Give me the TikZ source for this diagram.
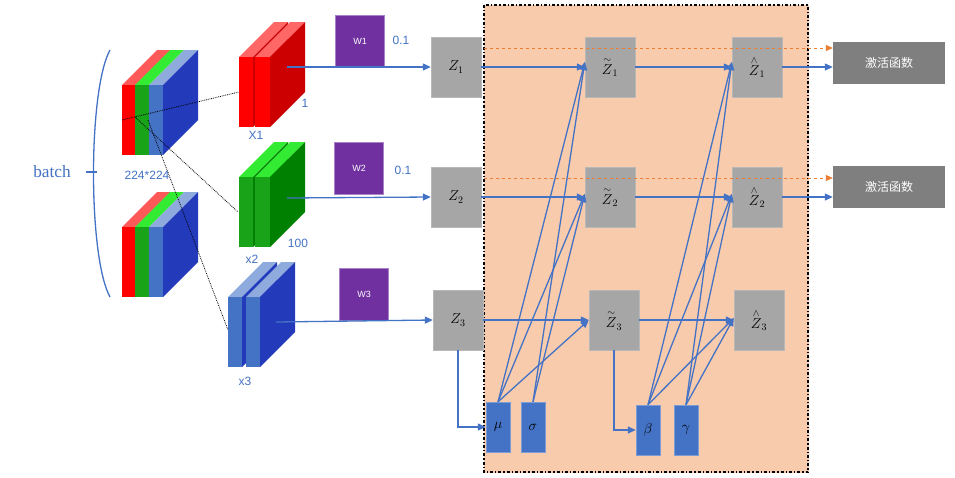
\documentclass[tikz,border=0pt]{standalone}
\usepackage{amsmath}
\usepackage{fontspec}
\setmainfont{Liberation Serif}
\newfontfamily\sans{Liberation Sans}
\newfontfamily\cjk{Noto Sans CJK SC}
\usetikzlibrary{arrows.meta}
\definecolor{lb}{HTML}{4472C4}
\definecolor{gr}{HTML}{A6A6A6}
\definecolor{pu}{HTML}{7030A0}
\definecolor{og}{HTML}{F8CBAD}
\definecolor{ogl}{HTML}{ED7D31}
\definecolor{dg}{HTML}{7F7F7F}
% slab: x y(front top-left) w h d front top side
\newcommand\myslab[8]{%
 \fill[#7] (#1,#2) -- ++(#5,-#5) -- ++(#3,0) -- ++(-#5,#5) -- cycle;
 \fill[#8] (#1+#3,#2) -- ++(#5,-#5) -- ++(0,#4) -- ++(-#5,#5) -- cycle;
 \fill[#6] (#1,#2) rectangle ++(#3,#4);}
\begin{document}
\begin{tikzpicture}[x=1pt,y=-1pt,
 ln/.style={lb,line width=1.3pt},
 ar/.style={ln,-{Triangle[length=8pt,width=7pt]}},
 zb/.style={fill=gr,draw=gr!80,minimum width=50pt,minimum height=60pt,inner sep=0pt,font=\Large},
 pb/.style={fill=lb,draw=lb!70,minimum width=24pt,minimum height=50pt,inner sep=0pt,font=\Large},
 wb/.style={fill=pu,draw=pu!60,minimum width=49pt,minimum height=52pt,text=white,font=\sans\small},
 act/.style={fill=dg,minimum width=112pt,minimum height=42pt,text=white,font=\cjk\large},
 lab/.style={text=lb,font=\sans\large,inner sep=0pt}]
\useasboundingbox (0,0) rectangle (955,477);
\fill[white] (0,0) rectangle (955,477);
\draw[og,fill=og] (484,5) rectangle (808,472);
\draw[line width=1.3pt,dash dot] (484,5) rectangle (808,472);
% input stacks
\foreach \yy in {85,227}{
 \fill[red!65] (122,\yy) -- ++(35,-35) -- ++(14,0) -- ++(-35,35) -- cycle;
 \fill[green!90!black!80] (135,\yy) -- ++(35,-35) -- ++(14,0) -- ++(-35,35) -- cycle;
 \fill[lb!60] (149,\yy) -- ++(35,-35) -- ++(14,0) -- ++(-35,35) -- cycle;
 \fill[blue!40!lb!85!black] (163,\yy) -- ++(35,-35) -- ++(0,70) -- ++(-35,35) -- cycle;
 \fill[red] (122,\yy) rectangle ++(13,70);
 \fill[green!60!black!90] (135,\yy) rectangle ++(14,70);
 \fill[lb] (149,\yy) rectangle ++(14,70);}
% filters
\myslab{239}{57}{14}{70}{35}{red}{red!60}{red!80!black}
\myslab{255}{57}{15}{70}{35}{red}{red!60}{red!80!black}
\myslab{239}{177}{14}{70}{35}{green!60!black!90}{green!90!black!80}{green!50!black}
\myslab{255}{177}{15}{70}{35}{green!60!black!90}{green!90!black!80}{green!50!black}
\myslab{228}{297}{14}{70}{35}{lb}{lb!60}{blue!40!lb!85!black}
\myslab{246}{297}{14}{70}{35}{lb}{lb!60}{blue!40!lb!85!black}
% dotted lines
\coordinate (s1) at (122,120); \coordinate (s2) at (135,117); \coordinate (s3) at (148,120);
\coordinate (f1) at (239,92); \coordinate (f2) at (238,212); \coordinate (f3) at (228,330);
\draw[densely dotted,thick] (s1) -- (f1); \draw[densely dotted,thick] (s2) -- (f2); \draw[densely dotted,thick] (s3) -- (f3);
% bracket
\draw[ln] (110,50) .. controls (88,90) and (88,257) .. (110,297);
\draw[ln] (86,172) -- (97,172);
\node[text=lb,font=\LARGE] (batch) at (52,172) {batch};
\node[lab] (sz) at (147,175) {224*224};
\node[lab] at (256,135) {X1};
\node[lab] at (305,103) {1};
\node[lab] at (252,259) {x2};
\node[lab] at (298,243) {100};
\node[lab] at (245,381) {x3};
% W boxes
\node[wb] (w1) at (360,41) {W1};
\node[wb] (w2) at (359,168) {W2};
\node[wb] (w3) at (364,294) {W3};
\node[lab] at (401,40) {0.1};
\node[lab] at (403,170) {0.1};
% Z nodes
\node[zb] (z1) at (456,67) {$Z_1$};
\node[zb] (z2) at (456,197) {$Z_2$};
\node[zb] (z3) at (458,320) {$Z_3$};
\node[zb] (t1) at (610,67) {$\overset{\sim}{Z}_1$};
\node[zb] (t2) at (610,197) {$\overset{\sim}{Z}_2$};
\node[zb] (t3) at (614,320) {$\overset{\sim}{Z}_3$};
\node[zb] (h1) at (757,67) {$\overset{\wedge}{Z}_1$};
\node[zb] (h2) at (757,197) {$\overset{\wedge}{Z}_2$};
\node[zb] (h3) at (759,320) {$\overset{\wedge}{Z}_3$};
\node[act] (a1) at (889,63) {激活函数};
\node[act] (a2) at (889,187) {激活函数};
\node[pb] (mu) at (498,427) {$\mu$};
\node[pb] (sg) at (533,427) {$\sigma$};
\node[pb] (be) at (648,430) {$\beta$};
\node[pb] (ga) at (686,430) {$\gamma$};
% inputs
\coordinate (o1) at (287,67); \coordinate (o2) at (287,198); \coordinate (o3) at (276,322);
\draw[ar] (o1) -- (z1.west);
\draw[ar] (o2) -- (z2.west);
\draw[ar] (o3) -- (z3.west);
\draw[ar] (z1) -- (t1); \draw[ar] (t1) -- (h1); \draw[ar] (h1.east) -- (a1.west|-h1);
\draw[ar] (z2) -- (t2); \draw[ar] (t2) -- (h2); \draw[ar] (h2.east) -- (a2.west|-h2);
\draw[ar] (z3) -- (t3); \draw[ar] (t3) -- (h3);
\draw[ogl,thick,dashed,-{Triangle[length=7pt,width=6pt]}] (484,48) -- (a1.west|-0,48);
\draw[ogl,thick,dashed,-{Triangle[length=7pt,width=6pt]}] (484,178) -- (a2.west|-0,178);
\draw[ar] (z3.south) |- (mu.west);
\draw[ar] (t3.south) |- (be.west);
\foreach \s in {mu,sg}{
 \draw[ar] (\s.north) -- ([yshift=5pt]t1.west);
 \draw[ar] (\s.north) -- ([yshift=3pt]t2.west);}
\draw[ar] (mu.north) -- (t3.west);
\foreach \s in {be,ga}{
 \draw[ar] (\s.north) -- ([yshift=5pt]h1.west);
 \draw[ar] (\s.north) -- ([yshift=3pt]h2.west);
 \draw[ar] (\s.north) -- ([yshift=2pt]h3.west);}
\end{tikzpicture}
\end{document}
